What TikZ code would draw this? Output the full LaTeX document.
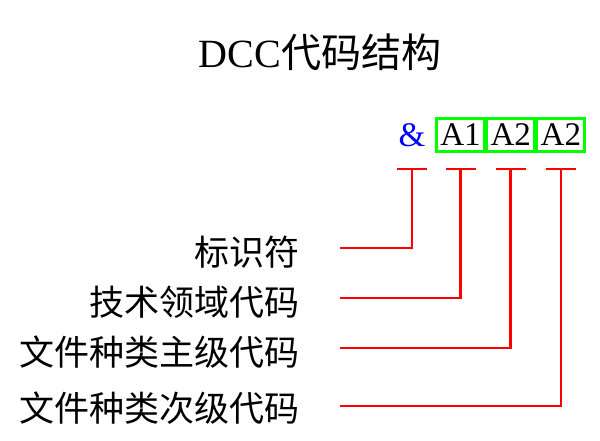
\documentclass[tikz,border=0pt]{standalone}
\usepackage{fontspec}
\setmainfont{Liberation Serif}
\newfontfamily\cjk{Noto Sans CJK SC}
\usetikzlibrary{positioning}

\tikzset{
  codebox/.style={draw=green, line width=1.9pt, minimum width=33.8pt,
    minimum height=23.8pt, inner sep=0pt, font=\fontsize{23.5}{26}\selectfont},
  desc/.style={anchor=east, inner sep=0pt, font=\cjk\fontsize{24.9}{28}\selectfont},
  tiebar/.style={draw=red, line width=1.9pt},
}

\begin{document}
\begin{tikzpicture}[x=0.025cm, y=-0.025cm]
        \useasboundingbox (0,0) rectangle (600,441);
        \node (title) at (320,52) [font=\fontsize{28.5}{32}\selectfont] {DCC{\cjk 代码结构}};
        % the code itself
        \node (amp) at (412,135) [text=blue, font=\fontsize{24.5}{26}\selectfont] {\&};
        \node (tech) at (460.5,135) [codebox] {A1};
        \node (major) [codebox, right=0pt of tech] {A2};
        \node (minor) [codebox, right=0pt of major] {A2};
        % what each part means
        \node (dAmp) at (300,252) [desc] {标识符};
        \node (dTech) at (300,302) [desc] {技术领域代码};
        \node (dMajor) at (300,352) [desc] {文件种类主级代码};
        \node (dMinor) at (300,408) [desc] {文件种类次级代码};
        \foreach \part/\name/\y in {amp/dAmp/248, tech/dTech/298, major/dMajor/348, minor/dMinor/406} {
            \coordinate (top-\part) at (\part |- 0,169);
            \coordinate (end-\part) at (340,\y);
            \draw [tiebar] ([xshift=-15*0.025cm]top-\part) -- ([xshift=15*0.025cm]top-\part);
            \draw [tiebar] (top-\part) |- (end-\part);
        }
    \end{tikzpicture}
\end{document}
